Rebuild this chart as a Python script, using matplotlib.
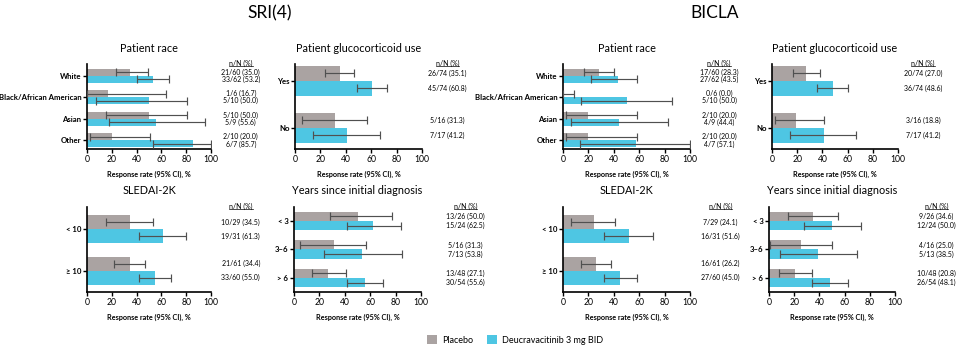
import matplotlib
matplotlib.use("Agg")
import matplotlib.pyplot as plt
from matplotlib.patches import Patch
from matplotlib.lines import Line2D
import numpy as np

plt.rcParams["font.family"] = ["Lato", "DejaVu Sans"]

GRAY = "#aaa3a2"
CYAN = "#4ec6e3"
ERR = "#505050"

# ---- SRI(4) ----
sri_race_cats = ["White", "Black/African American", "Asian", "Other"]
sri_race_pbo = [35.0, 16.7, 50.0, 20.0]
sri_race_pbo_lo = [23.0, 0.4, 15.0, 2.5]
sri_race_pbo_hi = [49.0, 64.0, 81.0, 51.0]
sri_race_deu = [53.2, 50.0, 55.6, 85.7]
sri_race_deu_lo = [40.5, 7.0, 18.0, 53.5]
sri_race_deu_hi = [66.0, 80.5, 95.0, 99.6]
sri_race_pbo_nN = [(21, 60), (1, 6), (5, 10), (2, 10)]
sri_race_deu_nN = [(33, 62), (5, 10), (5, 9), (6, 7)]

sri_gc_cats = ["Yes", "No"]
sri_gc_pbo = [35.1, 31.3]
sri_gc_pbo_lo = [23.7, 5.3]
sri_gc_pbo_hi = [46.8, 56.6]
sri_gc_deu = [60.8, 41.2]
sri_gc_deu_lo = [48.7, 14.5]
sri_gc_deu_hi = [72.4, 67.0]
sri_gc_pbo_nN = [(26, 74), (5, 16)]
sri_gc_deu_nN = [(45, 74), (7, 17)]

sri_sle_cats = ["< 10", "\u2265 10"]
sri_sle_pbo = [34.5, 34.4]
sri_sle_pbo_lo = [15.0, 22.0]
sri_sle_pbo_hi = [53.0, 47.0]
sri_sle_deu = [61.3, 55.0]
sri_sle_deu_lo = [42.0, 42.0]
sri_sle_deu_hi = [80.0, 68.0]
sri_sle_pbo_nN = [(10, 29), (21, 61)]
sri_sle_deu_nN = [(19, 31), (33, 60)]

sri_yrs_cats = ["< 3", "3\u20136", "> 6"]
sri_yrs_pbo = [50.0, 31.3, 27.1]
sri_yrs_pbo_lo = [28.0, 5.0, 14.0]
sri_yrs_pbo_hi = [77.0, 57.0, 41.0]
sri_yrs_deu = [62.5, 53.8, 55.6]
sri_yrs_deu_lo = [41.5, 23.7, 41.5]
sri_yrs_deu_hi = [84.0, 85.0, 70.0]
sri_yrs_pbo_nN = [(13, 26), (5, 16), (13, 48)]
sri_yrs_deu_nN = [(15, 24), (7, 13), (30, 54)]

# ---- BICLA ----
bic_race_cats = ["White", "Black/African American", "Asian", "Other"]
bic_race_pbo = [28.3, 0.0, 20.0, 20.0]
bic_race_pbo_lo = [16.3, 0.0, 2.5, 2.5]
bic_race_pbo_hi = [40.0, 8.5, 58.0, 58.0]
bic_race_deu = [43.5, 50.0, 44.4, 57.1]
bic_race_deu_lo = [22.0, 14.0, 6.0, 13.0]
bic_race_deu_hi = [58.0, 86.0, 83.0, 100.0]
bic_race_pbo_nN = [(17, 60), (0, 6), (2, 10), (2, 10)]
bic_race_deu_nN = [(27, 62), (5, 10), (4, 9), (4, 7)]

bic_gc_cats = ["Yes", "No"]
bic_gc_pbo = [27.0, 18.8]
bic_gc_pbo_lo = [16.6, 2.0]
bic_gc_pbo_hi = [38.0, 41.0]
bic_gc_deu = [48.6, 41.2]
bic_gc_deu_lo = [35.5, 14.5]
bic_gc_deu_hi = [60.5, 67.0]
bic_gc_pbo_nN = [(20, 74), (3, 16)]
bic_gc_deu_nN = [(36, 74), (7, 17)]

bic_sle_cats = ["< 10", "\u2265 10"]
bic_sle_pbo = [24.1, 26.2]
bic_sle_pbo_lo = [6.0, 14.0]
bic_sle_pbo_hi = [41.0, 38.0]
bic_sle_deu = [51.6, 45.0]
bic_sle_deu_lo = [32.0, 32.0]
bic_sle_deu_hi = [71.0, 58.0]
bic_sle_pbo_nN = [(7, 29), (16, 61)]
bic_sle_deu_nN = [(16, 31), (27, 60)]

bic_yrs_cats = ["< 3", "3\u20136", "> 6"]
bic_yrs_pbo = [34.6, 25.0, 20.8]
bic_yrs_pbo_lo = [15.0, 0.5, 8.0]
bic_yrs_pbo_hi = [55.0, 50.0, 34.0]
bic_yrs_deu = [50.0, 38.5, 48.1]
bic_yrs_deu_lo = [28.0, 8.5, 34.0]
bic_yrs_deu_hi = [73.0, 69.5, 63.0]
bic_yrs_pbo_nN = [(9, 26), (4, 16), (10, 48)]
bic_yrs_deu_nN = [(12, 24), (5, 13), (26, 54)]

W, H = 960, 357
fig = plt.figure(figsize=(W / 100, H / 100), dpi=100)
fig.patch.set_facecolor("white")


def add_ax(x0, x1, y0, y1):
    return fig.add_axes([x0 / W, 1 - y1 / H, (x1 - x0) / W, (y1 - y0) / H])


headers = []


def panel(ax, title, cats, pbo, plo, phi, deu, dlo, dhi, pnN, dnN,
          h, top_pad, bot_pad, text_dx):
    n = len(cats)
    y = np.arange(n)
    pbo, plo, phi = map(np.array, (pbo, plo, phi))
    deu, dlo, dhi = map(np.array, (deu, dlo, dhi))
    yp, yd = y - h / 2, y + h / 2
    ax.barh(yp, pbo, height=h, color=GRAY, zorder=2)
    ax.barh(yd, deu, height=h, color=CYAN, zorder=2)
    ekw = dict(fmt="none", ecolor=ERR, elinewidth=0.85, capsize=2.6, capthick=0.85, zorder=3)
    ax.errorbar(pbo, yp, xerr=[pbo - plo, phi - pbo], **ekw)
    ax.errorbar(deu, yd, xerr=[deu - dlo, dhi - deu], **ekw)
    ax.set_xlim(0, 100)
    ax.set_ylim(n - 1 + bot_pad, -top_pad)
    ax.set_yticks(y)
    ax.set_yticklabels(cats, fontsize=5.6, fontweight="bold")
    ax.set_xticks(range(0, 101, 20))
    ax.tick_params(axis="x", labelsize=6.2, length=3, width=1, pad=1.5)
    ax.tick_params(axis="y", length=3, width=1, pad=1)
    ax.set_xlabel("Response rate (95% CI), %", fontsize=5.2, fontweight="bold", labelpad=5)
    ax.set_title(title, fontsize=7.8, pad=9)
    for s in ["top", "right"]:
        ax.spines[s].set_visible(False)
    for s in ["left", "bottom"]:
        ax.spines[s].set_linewidth(1.2)
    tr = ax.get_yaxis_transform()
    tx = 1 + text_dx
    for yy, (a, b), v in zip(yp, pnN, pbo):
        ax.text(tx, yy, f"{a}/{b} ({v:.1f})", transform=tr, ha="center", va="center", fontsize=5.0)
    for yy, (a, b), v in zip(yd, dnN, deu):
        ax.text(tx, yy, f"{a}/{b} ({v:.1f})", transform=tr, ha="center", va="center", fontsize=5.0)
    headers.append(ax.text(tx, 1.01, "n/N (%)", transform=ax.transAxes,
                           ha="center", va="center", fontsize=5))


T1, B1 = 64, 149
T2, B2 = 207, 292

race = dict(h=0.33, top_pad=0.55, bot_pad=0.4)
gc = dict(h=0.32, top_pad=0.36, bot_pad=0.45)
sle = dict(h=0.34, top_pad=0.54, bot_pad=0.51)
yrs = dict(h=0.32, top_pad=0.49, bot_pad=0.49)

panel(add_ax(87, 211, T1, B1), "Patient race", sri_race_cats, sri_race_pbo, sri_race_pbo_lo,
      sri_race_pbo_hi, sri_race_deu, sri_race_deu_lo, sri_race_deu_hi,
      sri_race_pbo_nN, sri_race_deu_nN, text_dx=0.24, **race)
panel(add_ax(295, 422, T1, B1), "Patient glucocorticoid use", sri_gc_cats, sri_gc_pbo, sri_gc_pbo_lo,
      sri_gc_pbo_hi, sri_gc_deu, sri_gc_deu_lo, sri_gc_deu_hi,
      sri_gc_pbo_nN, sri_gc_deu_nN, text_dx=0.2, **gc)
panel(add_ax(87, 211, T2, B2), "SLEDAI-2K", sri_sle_cats, sri_sle_pbo, sri_sle_pbo_lo,
      sri_sle_pbo_hi, sri_sle_deu, sri_sle_deu_lo, sri_sle_deu_hi,
      sri_sle_pbo_nN, sri_sle_deu_nN, text_dx=0.24, **sle)
panel(add_ax(294, 421, T2, B2), "Years since initial diagnosis", sri_yrs_cats, sri_yrs_pbo, sri_yrs_pbo_lo,
      sri_yrs_pbo_hi, sri_yrs_deu, sri_yrs_deu_lo, sri_yrs_deu_hi,
      sri_yrs_pbo_nN, sri_yrs_deu_nN, text_dx=0.35, **yrs)

panel(add_ax(563, 690, T1, B1), "Patient race", bic_race_cats, bic_race_pbo, bic_race_pbo_lo,
      bic_race_pbo_hi, bic_race_deu, bic_race_deu_lo, bic_race_deu_hi,
      bic_race_pbo_nN, bic_race_deu_nN, text_dx=0.23, **race)
panel(add_ax(772, 898, T1, B1), "Patient glucocorticoid use", bic_gc_cats, bic_gc_pbo, bic_gc_pbo_lo,
      bic_gc_pbo_hi, bic_gc_deu, bic_gc_deu_lo, bic_gc_deu_hi,
      bic_gc_pbo_nN, bic_gc_deu_nN, text_dx=0.2, **gc)
panel(add_ax(563, 690, T2, B2), "SLEDAI-2K", bic_sle_cats, bic_sle_pbo, bic_sle_pbo_lo,
      bic_sle_pbo_hi, bic_sle_deu, bic_sle_deu_lo, bic_sle_deu_hi,
      bic_sle_pbo_nN, bic_sle_deu_nN, text_dx=0.24, **sle)
panel(add_ax(769, 895, T2, B2), "Years since initial diagnosis", bic_yrs_cats, bic_yrs_pbo, bic_yrs_pbo_lo,
      bic_yrs_pbo_hi, bic_yrs_deu, bic_yrs_deu_lo, bic_yrs_deu_hi,
      bic_yrs_pbo_nN, bic_yrs_deu_nN, text_dx=0.33, **yrs)

fig.text(270 / W, 1 - 13 / H, "SRI(4)", fontsize=12.5, ha="center", va="center")
fig.text(715 / W, 1 - 13 / H, "BICLA", fontsize=12.5, ha="center", va="center")

handles = [Patch(facecolor=GRAY, label="Placebo"),
           Patch(facecolor=CYAN, label="Deucravacitinib 3 mg BID")]
fig.legend(handles=handles, loc="center", bbox_to_anchor=(515 / W, 1 - 340 / H), ncol=2,
           frameon=False, fontsize=6.5, handlelength=1.1, handleheight=1.1,
           columnspacing=1.6, handletextpad=0.5)

# underline the n/N (%) headers
fig.canvas.draw()
r = fig.canvas.get_renderer()
for t in headers:
    bb = t.get_window_extent(r).transformed(fig.transFigure.inverted())
    fig.add_artist(Line2D([bb.x0, bb.x1], [bb.y0 + 0.002, bb.y0 + 0.002],
                          transform=fig.transFigure, color="black", lw=0.5))

fig.savefig("out.png", dpi=100, facecolor="white")
